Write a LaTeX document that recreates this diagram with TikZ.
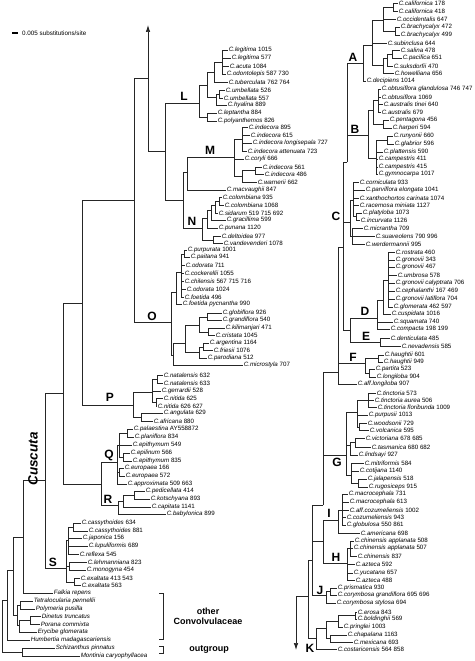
\documentclass[tikz,border=0pt]{standalone}
\usepackage{fontspec}
\setmainfont{Liberation Sans}
\usetikzlibrary{arrows.meta}
\tikzset{
  treeleaf/.style={anchor=west, inner sep=0.6pt,
    font=\fontsize{6.2}{7}\selectfont},
  treebranch/.style={line width=0.7pt, draw=black!85},
  treearrow/.style={treebranch, -{Latex[length=7pt,width=4.5pt]}},
  cladelabel/.style={inner sep=0pt, font=\fontsize{12}{12}\selectfont\bfseries},
  grouplabel/.style={inner sep=0pt, align=center,
    font=\fontsize{9}{10}\selectfont\bfseries}
}

\begin{document}
\begin{tikzpicture}[x=1pt, y=-1pt]
  \useasboundingbox (0,0) rectangle (474,661);

  % scale bar
  \coordinate (sbleft) at (12,33);
  \coordinate (sbright) at (18,33);
  \draw[line width=1.4pt] (sbleft) -- (sbright);
  \node[anchor=west, inner sep=0pt, font=\fontsize{6.3}{7}\selectfont]
    (scaletext) at (22,33) {0.005 substitutions/site};

  % terminal taxa, left column
  \foreach \n/\x/\y/\sp/\nr in {
    leg1/228/50/C.legitima/1015, leg2/231/58/C.legitima/577,
    acu/229/66/C.acuta/1084, odo/226/74/C.odontolepis/587 730,
    tub/228/82/C.tuberculata/762 764, umb1/225/90/C.umbellata/526,
    umb2/223/98/C.umbellata/557, hya/227/105/C.hyalina/889,
    lep/217/113/C.leptantha/884, pol/217/121/C.polyanthemos/826,
    ind1/248/127/C.indecora/895, ind2/250/135/C.indecora/615,
    ind3/252/143/C.indecora longisepala/727,
    ind4/247/151/C.indecora attenuata/723, cor/244/159/C.coryli/666,
    ind5/262/167/C.indecora/561, ind6/264/174/C.indecora/486,
    war/257/182/C.warnerii/662, mac/226/190/C.macvaughii/847,
    col1/222/197/C.colombiana/935, col2/224/205/C.colombiana/1068,
    sid/218/213/C.sidarum/519 715 692, gra/226/220/C.gracillima/599,
    pun/218/228/C.punana/1120, del/221/236/C.deltoidea/977,
    van/223/243/C.vandevenderi/1078,
    pur/187/250/C.purpurata/1001, pai/190/257/C.paitana/941,
    odr1/185/265/C.odorata/711, coc/184/273/C.cockerellii/1055,
    chi/184/281/C.chilensis/567 715 716, odr2/186/289/C.odorata/1024,
    foe1/184/297/C.foetida/496, foe2/182/304/C.foetida pycnantha/990,
    glo/222/313/C.globiflora/926, grf/222/320/C.grandiflora/540,
    kil/225/328/C.kilimanjari/471, cri/215/335/C.cristata/1045,
    arg/209/343/C.argentina/1164, fri/213/350/C.friesii/1076,
    par/207/358/C.parodiana/512, mic/243/365/C.microstyla/707,
    nat1/163/375/C.natalensis/632, nat2/163/383/C.natalensis/633,
    ger/161/391/C.gerrardii/528, nit1/163/398/C.nitida/625,
    nit2/157/406/C.nitida/626 627, ang/163/413/C.angulata/629,
    afr/153/421/C.africana/880,
    pal/133/429/C.palaestina/AY558872, pla/134/437/C.planiflora/834,
    epi1/132/445/C.epithymum/549, epl/130/453/C.epilinum/566,
    epi2/132/461/C.epithymum/835, eur1/124/468/C.europaea/166,
    eur2/125/476/C.europaea/572, app/127/484/C.approximata/509 663,
    ped/145/491/C.pedicellata/414, kot/150/499/C.kotschyana/893,
    cap/151/507/C.capitata/1141, bab/166/514/C.babylonica/899,
    cas1/81/523/C.cassythoides/634, cas2/88/531/C.cassythoides/881,
    jap/82/538/C.japonica/156, lup/88/546/C.lupuliformis/689,
    ref/79/554/C.reflexa/545, leh/87/562/C.lehmanniana/823,
    mon/86/570/C.monogyna/454, exa1/80/578/C.exaltata/413 543,
    exa2/81/585/C.exaltata/563,
    fal/53/593/Falkia repens/{}, tet/33/601/Tetralocularia pennellii/{},
    poly/35/609/Polymeria pusilla/{}, din/41/616/Dinetus truncatus/{},
    por/40/624/Porana commixta/{}, ery/37/632/Erycibe glomerata/{},
    hum/30/640/Humbertia madagascariensis/{},
    sch/55/648/Schizanthus pinnatus/{},
    mnt/80/656/Montinia caryophyllacea/{}}
    \node[treeleaf] (\n) at (\x,\y) {\textit{\sp} \nr};

  % terminal taxa, right column
  \foreach \n/\x/\y/\sp/\nr in {
    cal1/398/3/C.californica/178, cal2/398/11/C.californica/418,
    occ/396/19/C.occidentalis/647, bra1/400/27/C.brachycalyx/472,
    bra2/400/35/C.brachycalyx/499, sub/387/43/C.subinclusa/644,
    sal/400/50/C.salina/478, pac/402/58/C.pacifica/651,
    suk/393/66/C.suksdorfii/470, how/394/73/C.howelliana/656,
    dec/366/81/C.decipiens/1014,
    obg/381/89/C.obtusiflora glandulosa/746 747,
    obt/381/97/C.obtusiflora/1069, aut/383/104/C.australis tinei/640,
    aus/381/112/C.australis/679, pen/389/120/C.pentagona/456,
    har/392/128/C.harperi/594, run/393/136/C.runyonii/660,
    gla/394/144/C.glabrior/596, plt/383/152/C.plattensis/590,
    cam1/378/159/C.campestris/411, cam2/378/167/C.campestris/415,
    gym/378/174/C.gymnocarpa/1017, crn/359/182/C.corniculata/933,
    pae/365/190/C.parviflora elongata/1041,
    xan/359/198/C.xanthochortos carinata/1074,
    rac/359/205/C.racemosa miniata/1127, pty/362/213/C.platyloba/1073,
    inc/360/220/C.incurvata/1126, mcr/363/228/C.micrantha/709,
    sua/375/236/C.suaveolens/790 996, wer/365/244/C.werdermannii/995,
    ros/395/252/C.rostrata/460, gro1/395/260/C.gronovii/343,
    gro2/395/267/C.gronovii/467, umr/397/275/C.umbrosa/578,
    gro3/395/283/C.gronovii calyptrata/706,
    cep/395/291/C.cephalanthi/167 469,
    gro4/395/299/C.gronovii latiflora/704,
    glm/393/307/C.glomerata/462 597, cus/391/314/C.cuspidata/1016,
    squ/393/322/C.squamata/740, cmp/390/329/C.compacta/198 199,
    den/390/338/C.denticulata/485, nev/401/346/C.nevadensis/585,
    hau1/384/355/C.haughtii/601, hau2/383/362/C.haughtii/949,
    prt/375/369/C.partita/523, lon/376/377/C.longiloba/904,
    afl/357/384/C.aff.longiloba/907, tin1/376/393/C.tinctoria/573,
    tin2/374/400/C.tinctoria aurea/506,
    tin3/377/407/C.tinctoria floribunda/1009,
    pus/368/415/C.purpusii/1013, woo/367/423/C.woodsonii/729,
    vol/369/430/C.volcanica/595, vic/365/438/C.victoriana/678 685,
    tas/371/447/C.tasmanica/680 682, lin/358/455/C.lindsayi/927,
    mit/364/463/C.mitriformis/584, cot/359/471/C.cotijana/1140,
    jal/367/479/C.jalapensis/518, rug/368/487/C.rugosiceps/915,
    mcp1/348/494/C.macrocephala/731, mcp2/349/502/C.macrocephala/613,
    afc/349/510/C.aff.cozumeliensis/1002,
    coz/346/517/C.cozumeliensis/943, glb/346/525/C.globulosa/550 861,
    ame/360/533/C.americana/698,
    chn1/354/541/C.chinensis applanata/508,
    chn2/353/548/C.chinensis applanata/507,
    chn3/357/556/C.chinensis/837, azt1/355/564/C.azteca/592,
    yuc/353/573/C.yucatana/657, azt2/355/580/C.azteca/488,
    pri/337/588/C.prismatica/930,
    cgr/337/595/C.corymbosa grandiflora/695 696,
    csy/336/603/C.corymbosa stylosa/694, ero/357/612/C.erosa/843,
    bol/357/619/C.boldinghii/569, prg/343/627/C.pringlei/1003,
    cha/347/635/C.chapalana/1163, mex/353/642/C.mexicana/693,
    cos/337/649/C.costaricensis/564 858}
    \node[treeleaf] (\n) at (\x,\y) {\textit{\sp} \nr};

  % internal nodes
  \foreach \n/\x/\y in {
    Lnode/199/103, l1/207/85, l2/207/117, l3/214/72, l4/216/97,
    l5/222/62, l6/219/94,
    LMN/165/151, MN/183/200, Mb/187/172, Mnode/234/157, m1/242/139,
    m2/242/176, m3/255/170, Nnode/202/228, n1/207/218, n2/213/240,
    n3/211/210, n4/215/205, n5/219/201,
    grpD/148/78, upend/148/25, grpC/134/200,
    Onode/171/322, oa/176/292, ob/181/272, oc/184/254, od/173/355,
    oe/185/343, of/199/325, og/207/317, oh/208/332, oi/199/352,
    oj/203/347,
    grpB/82/303, Pnode/133/405, p1/152/392, p2/141/417, p3/157/379,
    p4/156/402,
    grpA/63/393, QR/101/484, Qnode/117/462, q1/119/445, q2/119/472,
    q3/127/433, q4/123/457, Rnode/118/505, r1/123/501, r2/134/495,
    Cus/45/480, Snode/66/568, s1/68/540, s2/69/566, s3/74/582,
    s4/73/527,
    CF/23/537, In2/13/570, rest/17/615, tp/20/605, dpe/19/625,
    dp/30/620, In1/7/600, Root/2/625, Outg/22/652,
    Anode/363/63, a1/372/45, a2/383/20, a3/383/65, a4/393/7,
    a5/395/31, a6/387/58, a7/392/54,
    Bnode/368/135, b1/373/110, b2/376/158, b3/378/100, b4/383/124,
    b5/387/140, AB/347/162,
    Cnode/350/222, c1/353/200, c2/352/236, c3/356/216,
    Dnode/377/318, d1/383/300, d3/388/280, Enode/380/342,
    DE/350/330, N343/343/247,
    Fnode/365/363, f1/378/358, f2/369/373, N338/338/372,
    Gnode/346/455, g1/357/412, g2/350/445, g3/351/475, g4/368/400,
    g5/359/427, g6/355/442, g7/358/483, N323/323/505,
    Inode/338/520, i1/342/510, Hnode/347/563, h1/350/548, IH/323/541,
    Jnode/326/595, j1/330/591, N312/312/560,
    Knode/316/638, k1/326/628, k2/338/621, k3/330/638, k4/355/615,
    N308/308/596, downend/296/650}
    \coordinate (\n) at (\x,\y);

  % branches, left column
  \foreach \p/\c in {
    l5/leg1, l5/leg2, l5/acu, l5/odo, l3/l5, l3/tub, l6/umb1, l6/umb2,
    l4/l6, l4/hya, l1/l3, l1/l4, l2/lep, l2/pol, Lnode/l1, Lnode/l2,
    m1/ind1, m1/ind2, m1/ind3, m1/ind4, m3/ind5, m3/ind6, m2/m3,
    m2/war, Mnode/m1, Mnode/cor, Mnode/m2, Mb/Mnode, Mb/mac,
    n5/col1, n5/col2, n4/n5, n4/sid, n3/n4, n3/gra, n1/n3, n1/pun,
    n2/del, n2/van, Nnode/n1, Nnode/n2, MN/Mb, MN/Nnode,
    LMN/Lnode, LMN/MN, grpD/LMN, grpC/grpD, grpC/Onode,
    oc/pur, oc/pai, ob/oc, ob/odr1, ob/coc, ob/chi, ob/odr2, ob/foe1,
    oa/ob, oa/foe2, og/glo, og/grf, oh/kil, oh/cri, of/og, of/oh,
    oj/arg, oj/fri, oi/oj, oi/par, oe/of, oe/oi, od/oe, od/mic,
    Onode/oa, Onode/od,
    p3/nat1, p3/nat2, p4/nit1, p4/nit2, p1/p3, p1/ger, p1/p4,
    p2/ang, p2/afr, Pnode/p1, Pnode/p2, grpB/grpC, grpB/Pnode,
    q3/pal, q3/pla, q4/epl, q4/epi2, q1/q3, q1/epi1, q1/q4,
    q2/eur1, q2/eur2, Qnode/q1, Qnode/q2, Qnode/app,
    r2/ped, r2/kot, r1/r2, r1/cap, Rnode/r1, Rnode/bab,
    QR/Qnode, QR/Rnode, grpA/grpB, grpA/QR,
    s4/cas1, s4/cas2, s1/s4, s1/jap, s1/lup, s1/ref, s2/leh, s2/mon,
    s3/exa1, s3/exa2, Snode/s1, Snode/s2, Snode/s3,
    Cus/grpA, Cus/Snode, CF/Cus, CF/fal,
    tp/tet, tp/poly, dp/din, dp/por, dpe/dp, dpe/ery, rest/tp,
    rest/dpe, In2/CF, In2/rest, In1/In2, In1/hum,
    Outg/sch, Outg/mnt, Root/In1, Root/Outg}
    \draw[treebranch] (\p) |- (\c);

  % branches, right column
  \foreach \p/\c in {
    a4/cal1, a4/cal2, a5/bra1, a5/bra2, a2/a4, a2/occ, a2/a5,
    a7/sal, a7/pac, a6/a7, a6/suk, a3/a6, a3/how,
    a1/a2, a1/sub, a1/a3, Anode/a1, Anode/dec,
    b3/obg, b3/obt, b3/aut, b3/aus, b4/pen, b4/har, b1/b3, b1/b4,
    b5/run, b5/gla, b2/b5, b2/plt, b2/cam1, b2/cam2, b2/gym,
    Bnode/b1, Bnode/b2, AB/Anode, AB/Bnode,
    c3/pty, c3/inc, c1/crn, c1/pae, c1/xan, c1/rac, c1/c3,
    c2/mcr, c2/sua, c2/wer, Cnode/c1, Cnode/c2,
    d3/ros, d3/gro1, d3/gro2, d3/umr, d3/gro3, d3/cep, d3/gro4,
    d3/glm, d1/d3, d1/cus, Dnode/d1, Dnode/squ, Dnode/cmp,
    Enode/den, Enode/nev, DE/Dnode, DE/Enode,
    N343/AB, N343/Cnode, N343/DE,
    f1/hau1, f1/hau2, f2/prt, f2/lon, Fnode/f1, Fnode/f2,
    N338/N343, N338/Fnode, N338/afl,
    g4/tin1, g4/tin2, g4/tin3, g5/woo, g5/vol, g1/g4, g1/pus, g1/g5,
    g6/vic, g6/tas, g2/g6, g2/lin, g7/jal, g7/rug, g3/mit, g3/cot,
    g3/g7, Gnode/g1, Gnode/g2, Gnode/g3, N323/N338, N323/Gnode,
    i1/mcp1, i1/mcp2, i1/afc, i1/coz, i1/glb, Inode/i1, Inode/ame,
    h1/chn1, h1/chn2, h1/chn3, Hnode/h1, Hnode/azt1, Hnode/yuc,
    Hnode/azt2, IH/Inode, IH/Hnode,
    j1/pri, j1/cgr, Jnode/j1, Jnode/csy,
    N312/N323, N312/IH, N312/Jnode,
    k4/ero, k4/bol, k2/k4, k2/prg, k3/cha, k3/mex, k1/k2, k1/k3,
    Knode/k1, Knode/cos, N308/N312, N308/Knode}
    \draw[treebranch] (\p) |- (\c);

  % the two halves join through these arrows
  \draw[treearrow] (grpD) -- (upend);
  \draw[treearrow] (N308) -| (downend);

  % clade letters
  \foreach \n/\x/\y/\t in {
    labL/184/96/L, labM/210/150/M, labN/192/221/N, labO/152/316/O,
    labP/110/397/P, labQ/109/455/Q, labR/108/499/R, labS/53/562/S,
    labA/353/57/A, labB/355/129/B, labC/336/216/C, labD/365/311/D,
    labE/366/336/E, labF/353/357/F, labG/337/462/G, labH/336/557/H,
    labI/329/513/I, labJ/320/590/J, labK/310/648/K}
    \node[cladelabel] (\n) at (\x,\y) {\t};

  \node[rotate=90, inner sep=0pt,
    font=\fontsize{13.5}{13.5}\selectfont\bfseries\itshape]
    (cuscuta) at (33,459) {Cuscuta};

  % brackets for the non-Cuscuta taxa
  \coordinate (octop) at (159,593);
  \coordinate (ocbot) at (163,639);
  \coordinate (ocend) at (159,639);
  \draw[treebranch] (octop) -| (ocbot) -- (ocend);
  \coordinate (ogtop) at (159,646);
  \coordinate (ogbot) at (163,653);
  \coordinate (ogend) at (159,653);
  \draw[treebranch] (ogtop) -| (ogbot) -- (ogend);
  \node[grouplabel] (othertext) at (208,616) {other\\Convolvulaceae};
  \node[grouplabel] (outtext) at (209,650) {outgroup};
\end{tikzpicture}
\end{document}
